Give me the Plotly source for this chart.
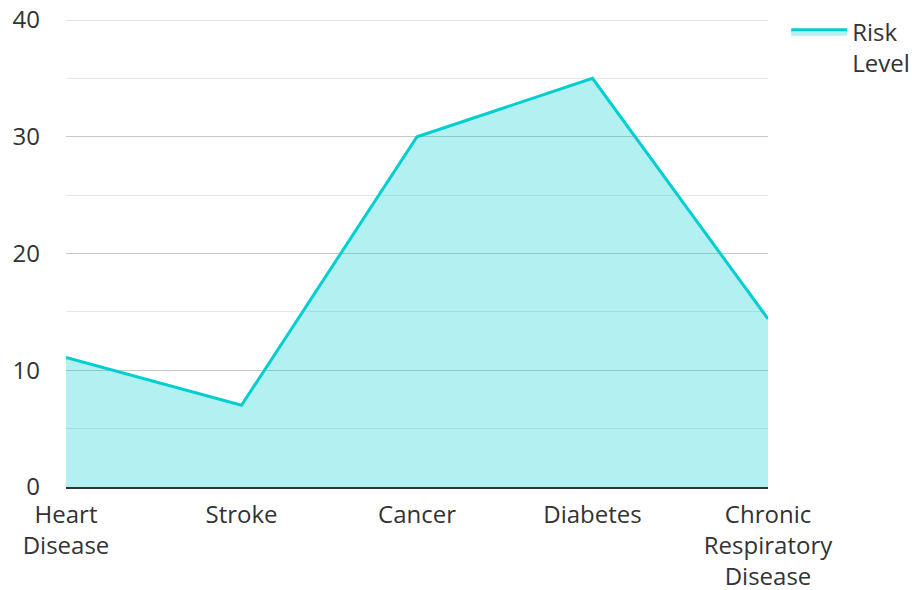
import plotly.graph_objects as go

categories = ["Heart<br>Disease", "Stroke", "Cancer", "Diabetes", "Chronic<br>Respiratory<br>Disease"]
risk_level = [11.1, 7, 30, 35, 14.4]
y_ticks = [0, 10, 20, 30, 40]

xs = list(range(len(categories)))

fig = go.Figure()
fig.add_trace(go.Scatter(
    x=xs, y=risk_level, mode="lines", name="Risk<br>Level",
    line=dict(color="#00CED1", width=3),
    fill="tozeroy", fillcolor="rgba(0,206,209,0.3)",
))

fig.add_hline(y=y_ticks[-1], line=dict(color="#c8c8c8", width=1), layer="below")

fig.update_layout(
    width=912, height=590,
    margin=dict(l=66, r=144, t=20, b=103, autoexpand=False),
    paper_bgcolor="white", plot_bgcolor="white",
    font=dict(family="Open Sans", size=24, color="#333333"),
    showlegend=True,
    legend=dict(x=1.026, y=1.022, xanchor="left", yanchor="top",
                valign="top", itemwidth=56,
                font=dict(size=24, color="#333333"), tracegroupgap=0),
    xaxis=dict(
        range=[0, 4], tickvals=xs, ticktext=categories,
        showgrid=False, zeroline=False, automargin=False,
        showline=True, linecolor="#333333", linewidth=2,
        ticks="", tickfont=dict(size=24, color="#333333"),
        ticklabelstandoff=5,
    ),
    yaxis=dict(
        range=[0, 40], tickvals=y_ticks, automargin=False,
        showgrid=True, gridcolor="#c8c8c8", gridwidth=1,
        zeroline=False, showline=False, ticks="",
        tickfont=dict(size=24, color="#333333"),
        ticklabelstandoff=25,
        minor=dict(dtick=5, showgrid=True, gridcolor="#e6e6e6", gridwidth=1),
    ),
)

fig.write_html("out.html", post_script="document.body.style.margin='0';",
               config={"displayModeBar": False})
